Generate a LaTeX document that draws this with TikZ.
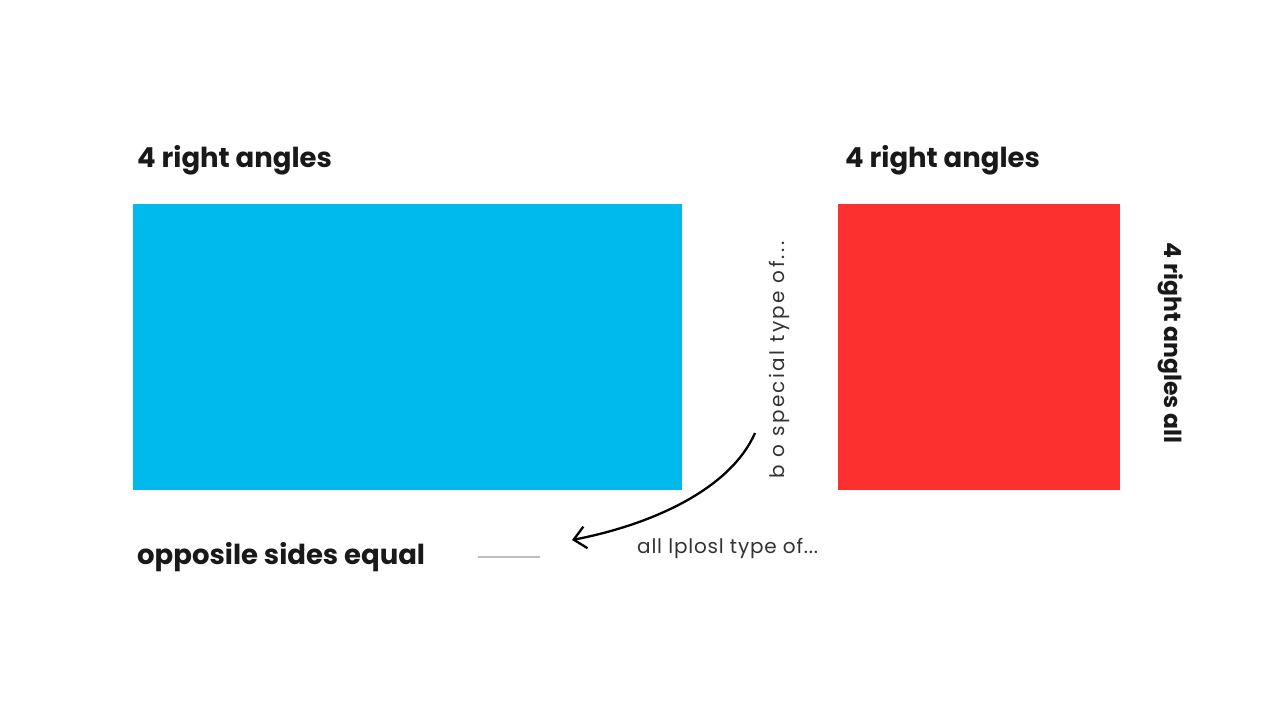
\documentclass[tikz,border=0pt]{standalone}
\usepackage{fontspec}
\usetikzlibrary{arrows.meta}
\newfontfamily\headfont{Poppins}
\newfontfamily\thinfont{Poppins}[LetterSpace=4]
\newfontfamily\widefont{Poppins}[LetterSpace=12]
\definecolor{skyblue}{RGB}{0,185,237}
\definecolor{brightred}{RGB}{253,48,48}
\definecolor{faint}{RGB}{190,190,190}
\tikzset{
  head/.style={anchor=base west, inner sep=0pt, font=\headfont\bfseries\fontsize{27.5}{32}\selectfont, text=black!90},
  note/.style={inner sep=0pt, font=\thinfont\fontsize{20}{24}\selectfont, text=black!80},
  shapebox/.style={draw=none, inner sep=0pt, anchor=north west},
  curvearrow/.style={line width=2.3pt, -{Straight Barb[length=12pt,width=22pt,line width=2.3pt]}}
}
\begin{document}
\begin{tikzpicture}[x=1pt,y=-1pt]
\useasboundingbox (0,0) rectangle (1280,720);
\fill[white] (0,0) rectangle (1280,720);
% rectangles
\node[shapebox, fill=skyblue, minimum width=549pt, minimum height=286pt] (blue) at (133,204) {};
\node[shapebox, fill=brightred, minimum width=282pt, minimum height=286pt] (red) at (838,204) {};
% headings
\node[head] (h1) at (137,167) {4 right angles};
\node[head] (h2) at (845,167) {4 right angles};
\node[head] (opp) at (137,564) {opposile sides equal};
% vertical notes
\node[note, rotate=90, anchor=center, font=\widefont\fontsize{20}{24}\selectfont] (mid) at (779,360) {b o special type of...};
\node[head, rotate=-90, anchor=center, font=\headfont\bfseries\fontsize{23.5}{28}\selectfont] (rv) at (1171,343) {4 right angles all};
% bottom note
\node[note, anchor=base west] (bn) at (637,553) {all lplosl type of...};
% arrow
\coordinate (as) at (755,433);
\coordinate (ae) at (572,540);
\draw[curvearrow] (as) .. controls (730,490) and (650,525) .. (ae);
% faint line
\coordinate (f1) at (478,557);
\coordinate (f2) at (540,557);
\draw[faint, line width=1.5pt] (f1) -- (f2);
\end{tikzpicture}
\end{document}
